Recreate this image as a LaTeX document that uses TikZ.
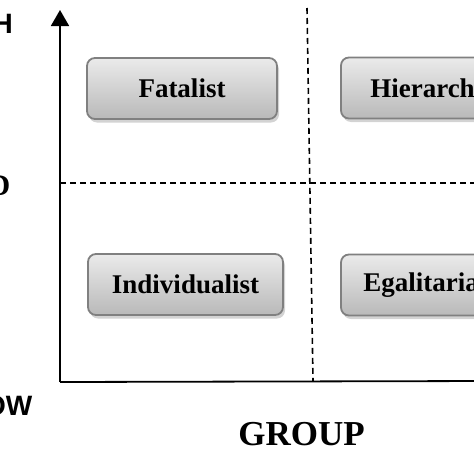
\documentclass[tikz,border=0pt]{standalone}
\usepackage{fontspec}
\setmainfont{Liberation Serif}
\newfontfamily\arialfont{Liberation Sans}
\usetikzlibrary{arrows.meta,shadows}
\tikzset{
  catbox/.style={rounded corners=8pt, draw=gray, line width=1.8pt,
    top color=gray!16, middle color=gray!3, bottom color=gray!55,
    drop shadow={shadow xshift=2pt, shadow yshift=-3.5pt, opacity=0.35, fill=gray},
    minimum height=61pt, inner sep=0pt,
    font=\fontsize{27}{30}\selectfont\bfseries},
  axisline/.style={line width=1.8pt, black},
  guideline/.style={line width=1.6pt, dash pattern=on 6pt off 4pt},
  serifhead/.style={font=\fontsize{#1}{#1}\selectfont\bfseries, inner sep=0pt},
  sanshead/.style={font=\arialfont\fontsize{#1}{#1}\selectfont\bfseries, inner sep=0pt}
}
\begin{document}
\begin{tikzpicture}[x=1pt,y=-1pt]
\useasboundingbox (0,0) rectangle (474,474);
\clip (0,0) rectangle (474,474);
% axes
\coordinate (origin) at (60,382);
\coordinate (ytop) at (60,10);
\coordinate (xend) at (490,381);
\draw[axisline, -{Triangle[width=18pt,length=16pt]}] (origin) -- (ytop);
\draw[axisline] (origin) -- (xend);
% dashed guides
\coordinate (hl) at (60,183);
\coordinate (hr) at (490,183);
\coordinate (vt) at (307,8);
\coordinate (vb) at (313,381);
\draw[guideline] (hl) -- (hr);
\draw[guideline] (vt) -- (vb);
% boxes
\node[catbox, minimum width=190pt] (fatalist) at (182,88.5) {Fatalist};
\node[catbox, minimum width=190pt] (hierarchist) at (436,88) {Hierarchist};
\node[catbox, minimum width=195pt] (individualist) at (185.5,284.5) {Individualist};
\node[catbox, minimum width=175pt] (egalitarian) at (428.5,285) {Egalitarian};
% axis labels
\node[sanshead=28, anchor=base east] (high) at (13,33) {HIGH};
\node[serifhead=30, anchor=base east] (grid) at (10.5,195) {GRID};
\node[sanshead=28, anchor=base east] (low) at (32.5,415) {LOW};
\node[serifhead=35, anchor=base] (group) at (301.5,445) {GROUP};
\end{tikzpicture}
\end{document}
